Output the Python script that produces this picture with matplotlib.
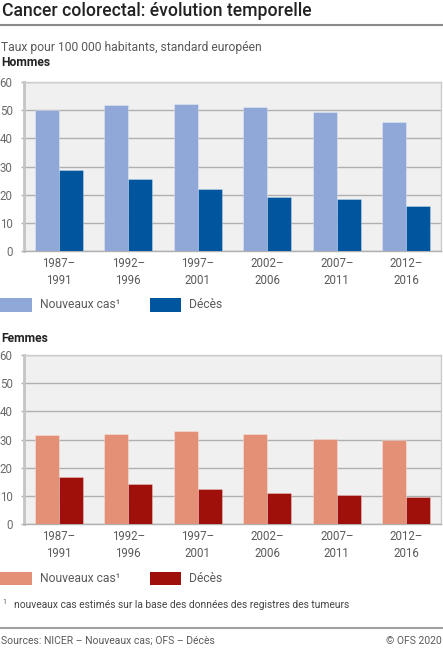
import matplotlib
matplotlib.use("Agg")
import matplotlib.pyplot as plt
from matplotlib.patches import Rectangle
from matplotlib.lines import Line2D
import numpy as np

plt.rcParams['font.family'] = ['Roboto', 'DejaVu Sans']

periods = ["1987–\n1991", "1992–\n1996", "1997–\n2001", "2002–\n2006", "2007–\n2011", "2012–\n2016"]
hommes_nouveaux = [50.0, 51.8, 52.1, 51.1, 49.2, 45.7]
hommes_deces = [28.7, 25.4, 21.9, 19.2, 18.3, 15.8]
femmes_nouveaux = [31.7, 32.0, 33.0, 31.8, 30.1, 29.7]
femmes_deces = [16.6, 14.3, 12.3, 11.0, 10.4, 9.6]
yticks = [0, 10, 20, 30, 40, 50, 60]

W, H = 443, 648
fig = plt.figure(figsize=(W / 100, H / 100), dpi=100)
fig.patch.set_facecolor("white")

LW = "normal"
TXT = "#5a5a5a"

def fx(px):
    return px / W

def fy(py):
    return 1 - py / H

def make_axes(top, bottom, nouveaux, deces, c1, c2):
    ax = fig.add_axes([fx(24), fy(bottom), fx(441) - fx(24), (bottom - top) / H])
    ax.set_facecolor("#f0f0f0")
    x = np.arange(len(periods))
    w = 0.345
    ax.bar(x - w / 2, nouveaux, w, color=c1, edgecolor=(1, 1, 1, 0.35), linewidth=0.6, zorder=3)
    ax.bar(x + w / 2, deces, w, color=c2, edgecolor=(1, 1, 1, 0.35), linewidth=0.6, zorder=3)
    ax.set_xlim(-0.5, len(periods) - 0.5)
    ax.set_ylim(0, 60)
    ax.set_yticks(yticks)
    ax.set_xticks(x)
    ax.set_xticklabels(periods, fontsize=8.3, color=TXT, linespacing=1.42, fontweight=LW)
    ax.tick_params(axis="x", length=0, pad=4)
    ax.tick_params(axis="y", length=2.2, width=1, color="#b0b0b0", pad=6, labelsize=8.3, labelcolor="#6a6a6a")
    for t in ax.get_yticklabels():
        t.set_horizontalalignment("right")
        t.set_fontweight(LW)
    ax.grid(axis="y", color="#b0b0b0", linewidth=1, zorder=1)
    for s in ["top", "right"]:
        ax.spines[s].set_color("#cccccc")
        ax.spines[s].set_linewidth(1)
    ax.spines["bottom"].set_color("#b0b0b0")
    ax.spines["bottom"].set_linewidth(1)
    ax.spines["left"].set_color("#c4c4c4")
    ax.spines["left"].set_linewidth(2)
    return ax

c_hn, c_hd = "#8fa8d8", "#00559f"
c_fn, c_fd = "#e39076", "#a0100a"

make_axes(82, 251, hommes_nouveaux, hommes_deces, c_hn, c_hd)
make_axes(355, 524, femmes_nouveaux, femmes_deces, c_fn, c_fd)

# Title and header
fig.text(fx(2), fy(11), "Cancer colorectal: évolution temporelle", fontsize=12.7, color="#222222",
         fontweight="medium", va="center", ha="left")
fig.add_artist(Line2D([0, 1], [fy(24.5), fy(24.5)], color="#8a8a8a", linewidth=1.5))
fig.text(fx(1), fy(47), "Taux pour 100 000 habitants, standard européen", fontsize=8.7, color=TXT,
         va="center", ha="left", fontweight=LW)
fig.text(fx(1), fy(63), "Hommes", fontsize=8.7, color="#222222", fontweight="bold", va="center", ha="left")
fig.text(fx(1), fy(338), "Femmes", fontsize=8.7, color="#222222", fontweight="bold", va="center", ha="left")

def legend(ytop, c1, c2):
    h = 13.5
    fig.add_artist(Rectangle((fx(0), fy(ytop + h)), fx(32), h / H, color=c1, linewidth=0))
    fig.add_artist(Rectangle((fx(150), fy(ytop + h)), fx(31), h / H, color=c2, linewidth=0))
    fig.text(fx(40), fy(ytop + h / 2), "Nouveaux cas¹", fontsize=8.7, color=TXT, va="center", ha="left",
             fontweight=LW)
    fig.text(fx(189), fy(ytop + h / 2), "Décès", fontsize=8.7, color=TXT, va="center", ha="left",
             fontweight=LW)

legend(298, c_hn, c_hd)
legend(571.5, c_fn, c_fd)

fig.text(fx(2), fy(603), "1", fontsize=5, color=TXT, va="center", ha="left", fontweight=LW)
fig.text(fx(14), fy(604.5), "nouveaux cas estimés sur la base des données des registres des tumeurs",
         fontsize=7.35, color="#444444", va="center", ha="left", fontweight=LW)
fig.add_artist(Line2D([0, 1], [fy(627.5), fy(627.5)], color="#a0a0a0", linewidth=1.5))
fig.text(fx(1), fy(641), "Sources: NICER – Nouveaux cas; OFS – Décès", fontsize=7.45, color=TXT,
         va="center", ha="left", fontweight=LW)
fig.text(fx(442), fy(641), "© OFS 2020", fontsize=7.45, color=TXT, va="center", ha="right",
         fontweight=LW)

fig.savefig("out.png", dpi=100, facecolor="white")
